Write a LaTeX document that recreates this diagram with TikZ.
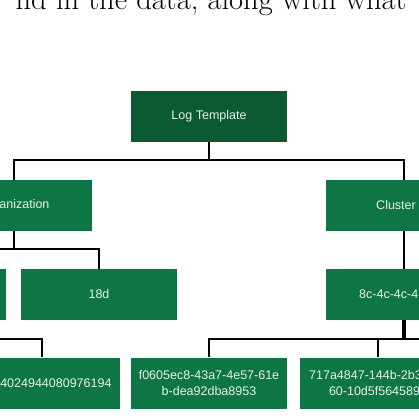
\documentclass[tikz,border=0pt]{standalone}
\usepackage{fontspec}
\newfontfamily\cardfont{Liberation Sans}
\definecolor{darkleaf}{HTML}{0B5A34}
\definecolor{leaf}{HTML}{0E7644}
\definecolor{paletext}{HTML}{E6F2EA}

\begin{document}
\begin{tikzpicture}[x=1pt, y=-1pt,
  card/.style={fill=leaf, text=paletext, minimum width=156pt, minimum height=51pt,
    inner sep=0pt, align=center, font=\cardfont\fontsize{12.5}{15.5}\selectfont},
  rootcard/.style={card, fill=darkleaf},
  link/.style={line width=2pt},
  trunk/.style={line width=3.6pt},
]
  \useasboundingbox (0,0) rectangle (419,419);
  \clip (0,0) rectangle (419,419);
  % running text above the figure
  \node[anchor=base, inner sep=0pt, font=\fontsize{30.5}{36}\selectfont] (caption)
    at (211,10) {nd in the data, along with what};
  % tree levels
  \node[rootcard] (tmpl) at (209,116.5) {Log Template};
  \node[card] (org)   at (14,205.5)  {Organization};
  \node[card] (clus)  at (404,205.5) {Cluster ID};
  \node[card] (orgA)  at (-72,294.5) {};
  \node[card] (orgB)  at (99,294.5)  {18d};
  \node[card] (clusA) at (404,294.5) {8c-4c-4c-4\phantom{c-12c}};
  \node[card] (leafA) at (42,383)  {\phantom{0000}4024944080976194};
  \node[card] (leafB) at (209,383) {f0605ec8-43a7-4e57-61e\\b-dea92dba8953};
  \node[card] (leafC) at (378,383) {717a4847-144b-2b3\phantom{0-00}\\60-10d5f564589\phantom{0}};
  \node[card] (leafD) at (547,383) {};
  % connectors
  \foreach \kid in {org, clus}
    \draw[link] (tmpl.south) -- ++(0,18) -| (\kid.north);
  \foreach \kid in {orgA, orgB}
    \draw[link] (org.south) -- ++(0,18) -| (\kid.north);
  \draw[link] (clus.south) -- (clusA.north);
  \draw[link] (orgA.south) -- ++(0,19) -| (leafA.north);
  \foreach \kid in {leafB, leafC, leafD}
    \draw[link] (clusA.south) ++(0,19) -| (\kid.north);
  \draw[trunk] (clusA.south) -- ++(0,19);
\end{tikzpicture}
\end{document}
